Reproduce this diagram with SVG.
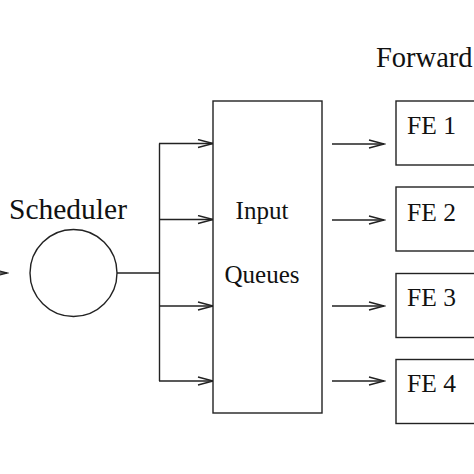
<svg xmlns="http://www.w3.org/2000/svg" width="474" height="474" viewBox="0 0 474 474">
<style>
.s{fill:none;stroke:#222;stroke-width:1.4}
.b{fill:#fff;stroke:#222;stroke-width:1.4}
.t{font-family:"Liberation Serif","Times New Roman",serif;fill:#111;font-size:25px}
.fe{font-size:25.5px}
</style>
<defs>
<marker id="ah" markerWidth="18" markerHeight="10" refX="16" refY="5" orient="auto" markerUnits="userSpaceOnUse">
<path d="M1,1 L16,5 L1,9" fill="none" stroke="#222" stroke-width="1.4"/>
</marker>
</defs>
<rect width="474" height="474" fill="#fff"/>
<g id="connectors">
<line class="s" x1="-20" y1="273" x2="7" y2="273" marker-end="url(#ah)"/>
<line class="s" x1="117" y1="273" x2="159.5" y2="273"/>
<line class="s" x1="159.5" y1="143.5" x2="159.5" y2="381"/>
<line class="s" x1="159" y1="143.5" x2="213" y2="143.5" marker-end="url(#ah)"/>
<line class="s" x1="159" y1="219.5" x2="213" y2="219.5" marker-end="url(#ah)"/>
<line class="s" x1="159" y1="306" x2="213" y2="306" marker-end="url(#ah)"/>
<line class="s" x1="159" y1="381" x2="213" y2="381" marker-end="url(#ah)"/>
<line class="s" x1="332" y1="144" x2="384" y2="144" marker-end="url(#ah)"/>
<line class="s" x1="332" y1="220" x2="384" y2="220" marker-end="url(#ah)"/>
<line class="s" x1="332" y1="306" x2="384" y2="306" marker-end="url(#ah)"/>
<line class="s" x1="332" y1="381" x2="384" y2="381" marker-end="url(#ah)"/>
</g>
<g id="scheduler">
<circle class="s" cx="73.5" cy="273" r="43.5"/>
<text class="t" x="9" y="219" style="font-size:29.5px">Scheduler</text>
</g>
<g id="input-queues">
<rect class="b" x="213" y="101" width="109" height="312"/>
<text class="t" x="262" y="219" text-anchor="middle">Input</text>
<text class="t" x="262" y="283" text-anchor="middle">Queues</text>
</g>
<g id="forward-title">
<text class="t" x="376" y="67" style="font-size:28.5px">Forward</text>
</g>
<g id="fe1">
<rect class="b" x="396" y="101" width="100" height="64"/>
<text class="t fe" x="407" y="134">FE 1</text>
</g>
<g id="fe2">
<rect class="b" x="396" y="187" width="100" height="64"/>
<text class="t fe" x="407" y="220.5">FE 2</text>
</g>
<g id="fe3">
<rect class="b" x="396" y="273.5" width="100" height="64"/>
<text class="t fe" x="407" y="306">FE 3</text>
</g>
<g id="fe4">
<rect class="b" x="396" y="359.5" width="100" height="64"/>
<text class="t fe" x="407" y="392">FE 4</text>
</g>
</svg>
